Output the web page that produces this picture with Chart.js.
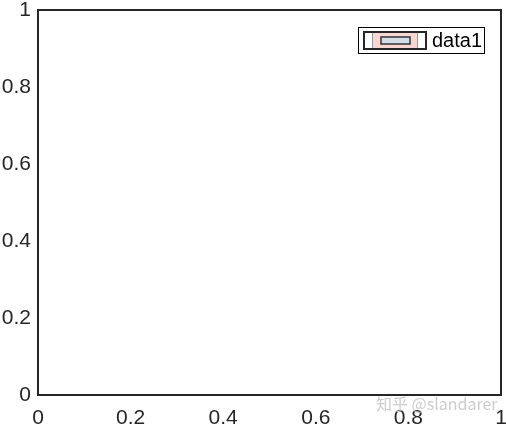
<!DOCTYPE html>
<html>
<head>
<meta charset="utf-8">
<script src="https://cdn.jsdelivr.net/npm/chart.js@4/dist/chart.umd.min.js"></script>
<style>
  html, body { margin: 0; padding: 0; background: #fff; }
  #wrap { width: 506px; height: 428px; position: relative; }
</style>
</head>
<body>
<div id="wrap"><canvas id="c"></canvas></div>
<script>
// empty axes, one (empty) boxchart series
const seriesNames = ['data1'];
const seriesValues = [[]];
const xTicks = [0, 0.2, 0.4, 0.6, 0.8, 1];
const yTicks = [0, 0.2, 0.4, 0.6, 0.8, 1];

const tickFont = { family: 'Liberation Sans, Arial, sans-serif', size: 21 };
const axisColor = '#262626';

// black frame round the plot area
const framePlugin = {
    id: 'frame',
    afterDraw(chart) {
        const a = chart.chartArea, c = chart.ctx;
        c.save();
        c.strokeStyle = axisColor;
        c.lineWidth = 2;
        c.strokeRect(a.left, a.top, a.right - a.left, a.bottom - a.top);
        c.restore();
    }
};

// boxed legend in the top right corner, box-shaped icon
const legendPlugin = {
    id: 'boxLegend',
    afterDraw(chart) {
        const c = chart.ctx;
        const bx = 358.5, by = 27.5, bw = 126, bh = 26;
        c.save();
        c.fillStyle = '#fff';
        c.fillRect(bx, by, bw, bh);
        c.strokeStyle = '#000';
        c.lineWidth = 1;
        c.strokeRect(bx, by, bw, bh);
        chart.data.datasets.forEach((ds, i) => {
            const ix = 364, iy = 32 + i * 22, iw = 62, ih = 17;
            c.fillStyle = '#fff';
            c.fillRect(ix, iy, iw, ih);
            c.fillStyle = '#f7d6d4';
            c.fillRect(ix + 9, iy, iw - 18, ih);
            c.strokeStyle = '#999';
            c.lineWidth = 1;
            c.beginPath();
            c.moveTo(ix + 8.5, iy); c.lineTo(ix + 8.5, iy + ih);
            c.moveTo(ix + iw - 8.5, iy); c.lineTo(ix + iw - 8.5, iy + ih);
            c.stroke();
            c.strokeStyle = '#262626';
            c.lineWidth = 2;
            c.strokeRect(ix, iy, iw, ih);
            c.fillStyle = '#d4dde8';
            c.fillRect(ix + 17, iy + 5, 29, 7);
            c.strokeStyle = '#333';
            c.lineWidth = 1.5;
            c.strokeRect(ix + 17, iy + 5, 29, 7);
            c.fillStyle = '#000';
            c.font = '20px Liberation Sans, Arial, sans-serif';
            c.textBaseline = 'middle';
            c.textAlign = 'left';
            c.fillText(ds.label, 432, iy + ih / 2 + 1);
        });
        // watermark
        c.fillStyle = 'rgba(200,200,200,0.9)';
        c.font = '16px Noto Sans CJK SC, sans-serif';
        c.textBaseline = 'middle';
        c.fillText('知乎 @slandarer', 376, 404);
        c.restore();
    }
};

const noPad = s => {
    s.paddingLeft = 0; s.paddingRight = 0;
    s.paddingTop = 0; s.paddingBottom = 0;
};

new Chart(document.getElementById('c'), {
    type: 'scatter',
    data: {
        datasets: seriesNames.map((name, i) => ({
            label: name,
            data: seriesValues[i],
            backgroundColor: '#f7d6d4',
            borderColor: '#262626'
        }))
    },
    options: {
        responsive: true,
        maintainAspectRatio: false,
        animation: false,
        layout: { padding: { top: 10, right: 5, left: 0, bottom: 0 } },
        plugins: { legend: { display: false }, tooltip: { enabled: false } },
        scales: {
            x: {
                type: 'linear', min: 0, max: 1,
                afterBuildTicks: s => { s.ticks = xTicks.map(v => ({ value: v })); },
                afterFit: s => { s.height = 33; noPad(s); },
                grid: { display: false, drawTicks: false },
                border: { display: false },
                ticks: { color: axisColor, font: tickFont, padding: 11, maxRotation: 0,
                    callback: v => String(v) }
            },
            y: {
                type: 'linear', min: 0, max: 1,
                afterBuildTicks: s => { s.ticks = yTicks.map(v => ({ value: v })); },
                afterFit: s => { s.width = 38; noPad(s); },
                grid: { display: false, drawTicks: false },
                border: { display: false },
                ticks: { color: axisColor, font: tickFont, padding: 7,
                    callback: v => String(v) }
            }
        }
    },
    plugins: [framePlugin, legendPlugin]
});
</script>
</body>
</html>
